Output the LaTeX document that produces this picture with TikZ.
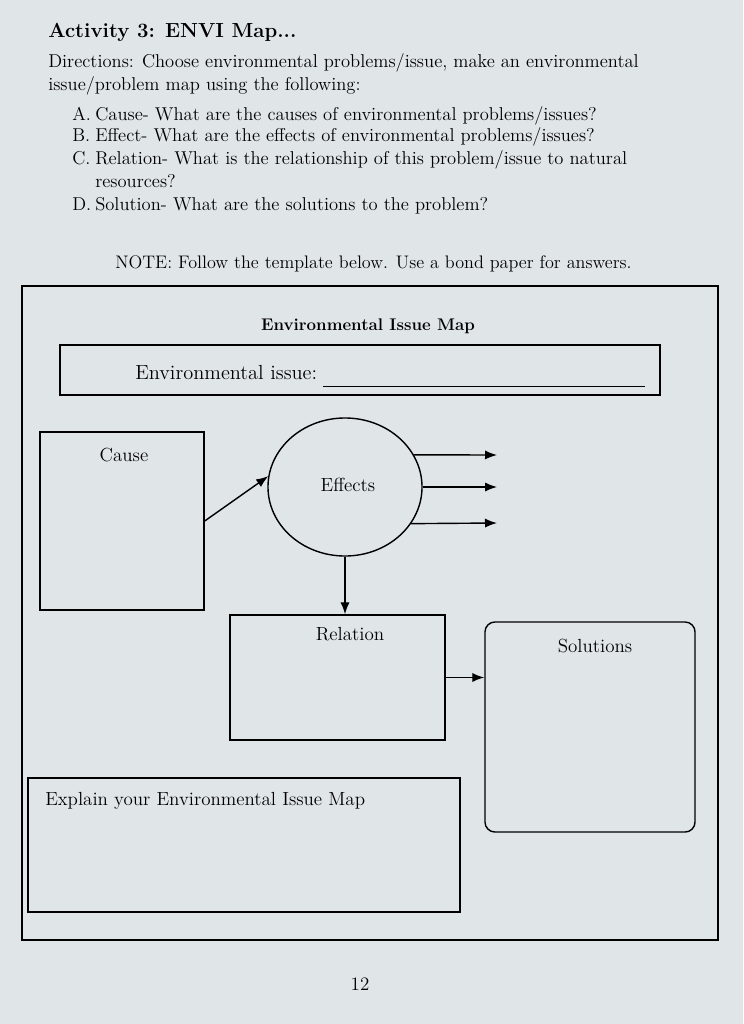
\documentclass[tikz,border=0pt]{standalone}
\usetikzlibrary{arrows.meta,positioning,shapes.geometric}
\definecolor{paper}{RGB}{224,229,231}

\begin{document}
\begin{tikzpicture}[x=0.025cm,y=-0.025cm,>={Latex[length=3mm,width=2.3mm]},
  box/.style={draw,line width=1pt,inner sep=0pt},
  txt/.style={font=\fontsize{13.2}{16}\selectfont,inner sep=0pt,anchor=base west},
  lbl/.style={font=\fontsize{13.5}{16}\selectfont,inner sep=0pt}]
  \fill[paper] (0,0) rectangle (743,1024);
  \useasboundingbox (0,0) rectangle (743,1024);
  % heading and directions
  \node[txt,font=\bfseries\fontsize{14.5}{17}\selectfont] (title) at (48,38) {Activity 3: ENVI Map...};
  \node[txt] (dir1) at (48,68) {Directions: Choose environmental problems/issue, make an environmental};
  \node[txt] (dir2) at (48,91) {issue/problem map using the following:};
  \node[txt] (la) at (72,121) {A.};
  \node[txt] (ta) at (95,121) {Cause- What are the causes of environmental problems/issues?};
  \node[txt] (lb) at (72,142) {B.};
  \node[txt] (tb) at (95,142) {Effect- What are the effects of environmental problems/issues?};
  \node[txt] (lc) at (72,165) {C.};
  \node[txt] (tc) at (95,165) {Relation- What is the relationship of this problem/issue to natural};
  \node[txt] (tc2) at (95,188) {resources?};
  \node[txt] (ld) at (72,211) {D.};
  \node[txt] (td) at (95,211) {Solution- What are the solutions to the problem?};
  \node[txt,font=\fontsize{12.9}{16}\selectfont] (note) at (115,268) {NOTE: Follow the template below. Use a bond paper for answers.};
  % template frame
  \draw[line width=1.1pt] (22,286) rectangle (718,940);
  \node[lbl,font=\bfseries\fontsize{12}{14}\selectfont] (maptitle) at (368,326) {Environmental Issue Map};
  \node[box,minimum width=15cm,minimum height=1.25cm] (issue) at (360,370) {};
  \node[txt,font=\fontsize{14.5}{17}\selectfont] (issuetxt) at (135,379) {Environmental issue:};
  \coordinate (u1) at (323,386);
  \coordinate (u2) at (645,386);
  \draw[line width=0.7pt] (u1)--(u2);
  % map
  \node[box,minimum width=4.1cm,minimum height=4.45cm] (cause) at (122,521) {};
  \node[lbl] (causetxt) at (124,455) {Cause};
  \node[box,ellipse,minimum width=3.85cm,minimum height=3.45cm] (effects) at (345,487) {};
  \node[lbl] (effectstxt) at (348,485) {Effects};
  \node[box,minimum width=5.375cm,minimum height=3.125cm] (relation) at (337.5,677.5) {};
  \node[lbl] (relationtxt) at (350,634) {Relation};
  \node[box,rounded corners=0.25cm,minimum width=5.25cm,minimum height=5.25cm] (solutions) at (590,727) {};
  \node[lbl] (solutionstxt) at (595,646) {Solutions};
  \coordinate (e1) at (497,455);
  \coordinate (e2) at (497,487);
  \coordinate (e3) at (497,523);
  \draw[->,line width=1pt] (cause.east)--(effects.172);
  \draw[->,line width=1pt] (effects.25)--(e1);
  \draw[->,line width=1pt] (effects.east)--(e2);
  \draw[->,line width=1pt] (effects.331)--(e3);
  \draw[->,line width=1pt] (effects.south)--(effects.south |- relation.north);
  \draw[->,line width=1pt] (relation.east)--(solutions.west |- relation.east);
  % explanation
  \node[box,minimum width=10.8cm,minimum height=3.35cm] (explain) at (244,845) {};
  \node[txt,font=\fontsize{13.5}{16}\selectfont] (explaintxt) at (45,805) {Explain your Environmental Issue Map};
  \node[lbl] (page) at (360,984) {12};
\end{tikzpicture}
\end{document}
